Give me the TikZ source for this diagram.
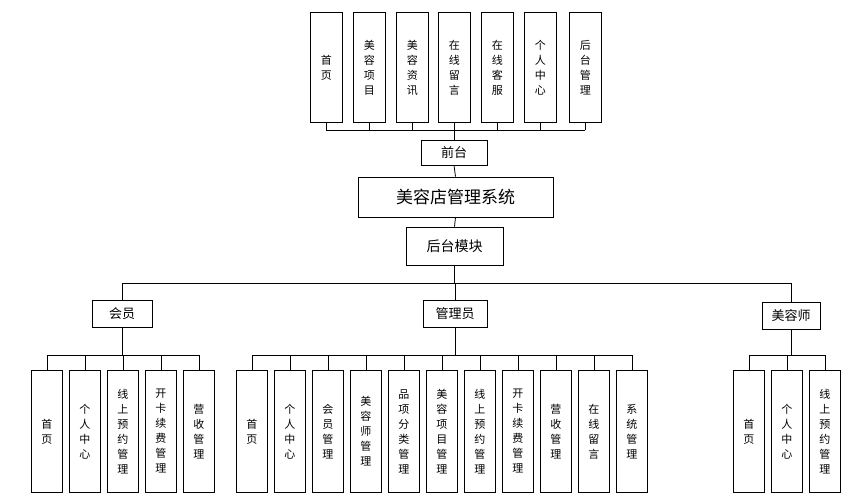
\documentclass[tikz,border=0pt]{standalone}
\usepackage{fontspec}
\newfontfamily\cjk{Noto Sans CJK SC}
\begin{document}
\begin{tikzpicture}[x=1pt,y=-1pt,
  vbox/.style={draw,thick,minimum width=31pt,minimum height=122pt,inner sep=0pt,align=center,font=\cjk\fontsize{11}{15}\selectfont,anchor=north west},
  hbox/.style={draw,thick,inner sep=0pt,font=\cjk\fontsize{13}{15}\selectfont},
  ln/.style={thick}]
\useasboundingbox (0,0) rectangle (856,500);
% top
\foreach \x/\t [count=\i] in {310/{首\\页},353/{美\\容\\项\\目},396/{美\\容\\资\\讯},438/{在\\线\\留\\言},481/{在\\线\\客\\服},524/{个\\人\\中\\心},569/{后\\台\\管\\理}}
  \node[vbox,minimum width=32pt,minimum height=110pt] (t\i) at (\x,12) {\t};
\node[hbox,minimum width=66pt,minimum height=25pt] (qt) at (454,152.5) {前台};
\node[hbox,minimum width=195pt,minimum height=40pt,font=\cjk\fontsize{17}{19}\selectfont] (sys) at (455.5,197) {美容店管理系统};
\node[hbox,minimum width=97pt,minimum height=38pt,font=\cjk\fontsize{14}{16}\selectfont] (ht) at (454.5,246) {后台模块};
\coordinate (b0) at (0,130);
\foreach \i in {1,...,7} \draw[ln] (t\i.south) -- (t\i.south|-b0);
\draw[ln] (t1.south|-b0) -- (t7.south|-b0);
\draw[ln] (qt.north) -- (qt.north|-b0);
\draw[ln] (qt.south) -- (sys.north);
\draw[ln] (sys.south) -- (ht.north);
% second level
\node[hbox,minimum width=60pt,minimum height=27pt] (hy) at (122,313.5) {会员};
\node[hbox,minimum width=64pt,minimum height=27pt] (gly) at (455,313.5) {管理员};
\node[hbox,minimum width=58pt,minimum height=27pt] (mrs) at (791,315.5) {美容师};
\coordinate (b1) at (0,283);
\draw[ln] (ht.south) -- (ht.south|-b1);
\draw[ln] (hy.north|-b1) -- (mrs.north|-b1);
\foreach \n in {hy,gly,mrs} \draw[ln] (\n.north) -- (\n.north|-b1);
% members
\coordinate (b2) at (0,355);
\foreach \x/\t [count=\i] in {31/{首\\页},69/{个\\人\\中\\心},107/{线\\上\\预\\约\\管\\理},145/{开\\卡\\续\\费\\管\\理},183/{营\\收\\管\\理}}
  {\node[vbox] (h\i) at (\x,370) {\t}; \draw[ln] (h\i.north) -- (h\i.north|-b2);}
\draw[ln] (h1.north|-b2) -- (h5.north|-b2);
\draw[ln] (hy.south) -- (hy.south|-b2);
% admin
\foreach \x/\t [count=\i] in {236/{首\\页},274/{个\\人\\中\\心},312/{会\\员\\管\\理},350/{美\\容\\师\\管\\理},388/{品\\项\\分\\类\\管\\理},426/{美\\容\\项\\目\\管\\理},464/{线\\上\\预\\约\\管\\理},502/{开\\卡\\续\\费\\管\\理},540/{营\\收\\管\\理},578/{在\\线\\留\\言},616/{系\\统\\管\\理}}
  {\node[vbox] (g\i) at (\x,370) {\t}; \draw[ln] (g\i.north) -- (g\i.north|-b2);}
\draw[ln] (g1.north|-b2) -- (g11.north|-b2);
\draw[ln] (gly.south) -- (gly.south|-b2);
% beautician
\foreach \x/\t [count=\i] in {733/{首\\页},771/{个\\人\\中\\心},809/{线\\上\\预\\约\\管\\理}}
  {\node[vbox] (m\i) at (\x,370) {\t}; \draw[ln] (m\i.north) -- (m\i.north|-b2);}
\draw[ln] (m1.north|-b2) -- (m3.north|-b2);
\draw[ln] (mrs.south) -- (mrs.south|-b2);
\end{tikzpicture}
\end{document}
